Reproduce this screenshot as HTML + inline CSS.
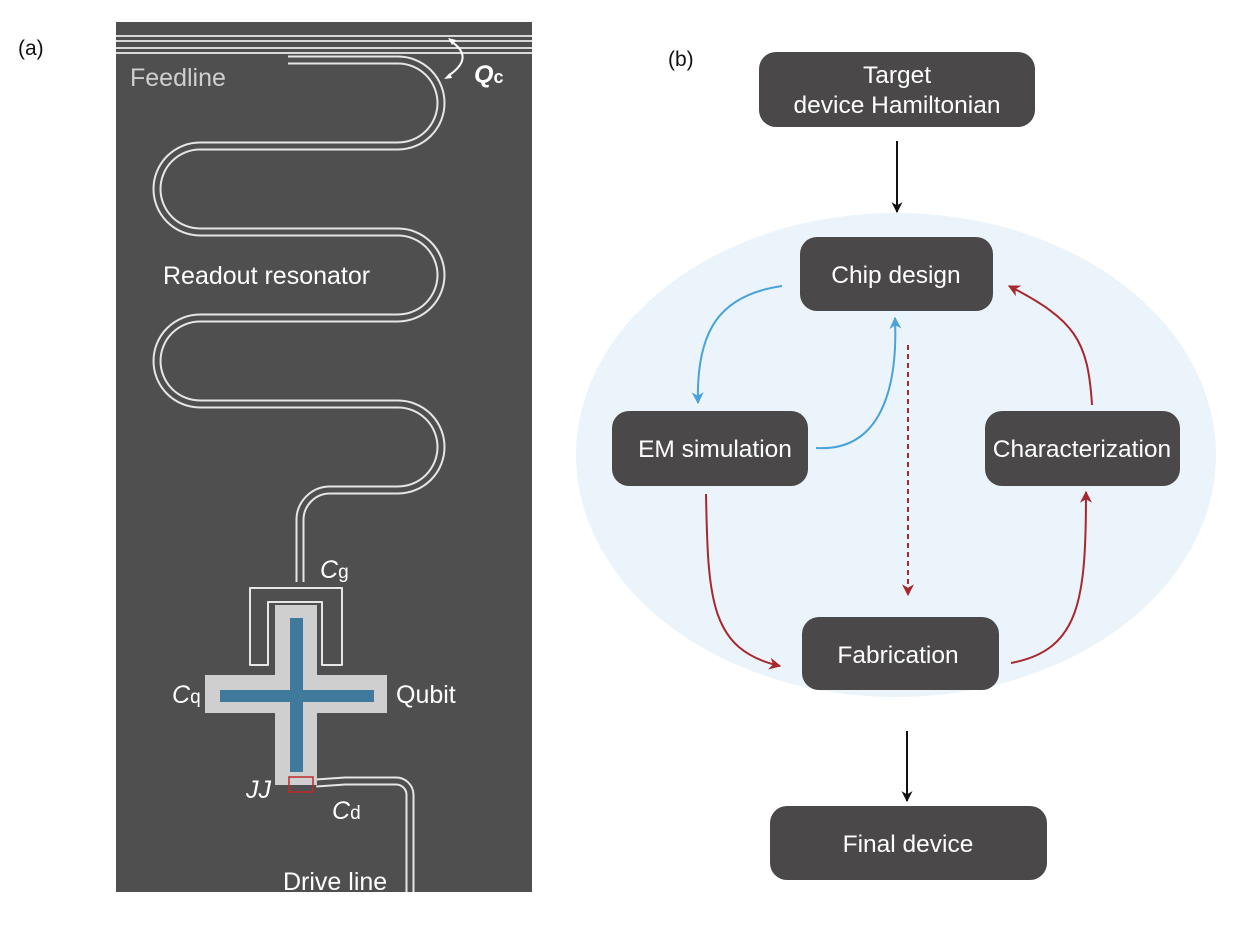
<!DOCTYPE html>
<html><head><meta charset="utf-8"><style>
body{margin:0;background:#fff;}
svg{display:block;font-family:"Liberation Sans",Arial,sans-serif;}
</style></head><body>
<svg width="1252" height="928" viewBox="0 0 1252 928" xmlns="http://www.w3.org/2000/svg">
<defs>
<marker id="ab" viewBox="0 0 10 10" refX="9" refY="5" markerWidth="12" markerHeight="12" orient="auto-start-reverse" markerUnits="userSpaceOnUse"><path d="M0,0 L10,5 L0,10 L3,5 z" fill="#4aa3d8"/></marker>
<marker id="ar" viewBox="0 0 10 10" refX="9" refY="5" markerWidth="12" markerHeight="12" orient="auto-start-reverse" markerUnits="userSpaceOnUse"><path d="M0,0 L10,5 L0,10 L3,5 z" fill="#a8282e"/></marker>
<marker id="ak" viewBox="0 0 10 10" refX="9" refY="5" markerWidth="11" markerHeight="11" orient="auto-start-reverse" markerUnits="userSpaceOnUse"><path d="M0,0 L10,5 L0,10 L3,5 z" fill="#111"/></marker>
</defs>
<text x="18" y="55" font-size="21" fill="#111">(a)</text>
<text x="668" y="66" font-size="21" fill="#111">(b)</text>

<rect x="116" y="22" width="416" height="870" fill="#4f4f4f"/>
<g stroke="#d8d8d8" stroke-width="2" fill="none">
<line x1="116" y1="36" x2="532" y2="36"/><line x1="116" y1="41" x2="532" y2="41"/>
<line x1="116" y1="48" x2="532" y2="48"/><line x1="116" y1="53" x2="532" y2="53"/>
</g>
<g fill="none" stroke-linejoin="round">
<path d="M288,60 H398 A43,43 0 0 1 398,146 H200 A43,43 0 0 0 200,232 H398 A43,43 0 0 1 398,318 H200 A43,43 0 0 0 200,404 H398 A43,43 0 0 1 398,490 H330 A30,30 0 0 0 300,520 V582" stroke="#e6e6e6" stroke-width="9"/>
<path d="M288,60 H398 A43,43 0 0 1 398,146 H200 A43,43 0 0 0 200,232 H398 A43,43 0 0 1 398,318 H200 A43,43 0 0 0 200,404 H398 A43,43 0 0 1 398,490 H330 A30,30 0 0 0 300,520 V582" stroke="#4f4f4f" stroke-width="5"/>
<path d="M316,783 L345,781 H395 A14,14 0 0 1 410,795 V892" stroke="#e6e6e6" stroke-width="9"/>
<path d="M316,783 L345,781 H395 A14,14 0 0 1 410,795 V892" stroke="#4f4f4f" stroke-width="5"/>
<path d="M250,665 V588 H342 V665 H322 V602 H268 V665 Z" stroke="#e6e6e6" stroke-width="2"/>
</g>
<path d="M275,605 H317 V675 H387 V713 H317 V785 H275 V713 H205 V675 H275 Z" fill="#cfcfcf"/>
<rect x="290" y="618" width="13" height="154" fill="#3f7a9c"/>
<rect x="220" y="690" width="154" height="12" fill="#3f7a9c"/>
<rect x="289" y="777" width="24" height="15" fill="none" stroke="#c02a2a" stroke-width="1.5"/>
<path d="M452,42 Q475,58 448,76" fill="none" stroke="#fff" stroke-width="2"/>
<path d="M448,38 l8,2 l-4,5z M444,79 l6,-6 l2,5z" fill="#fff"/>
<g font-size="25" fill="#fff">
<text x="130" y="86" fill="#cfcfcf">Feedline</text>
<text x="474" y="83" font-style="italic" font-weight="bold">Q<tspan font-size="18" font-style="normal">c</tspan></text>
<text x="163" y="284">Readout resonator</text>
<text x="320" y="578" font-style="italic">C<tspan font-size="19" font-style="normal">g</tspan></text>
<text x="172" y="703" font-style="italic">C<tspan font-size="19" font-style="normal">q</tspan></text>
<text x="396" y="703">Qubit</text>
<text x="246" y="798" font-style="italic">JJ</text>
<text x="332" y="819" font-style="italic">C<tspan font-size="19" font-style="normal">d</tspan></text>
<text x="283" y="890">Drive line</text>
</g>

<ellipse cx="896" cy="455" rx="320" ry="242" fill="#ebf4fa"/>
<g fill="#4a4849">
<rect x="759" y="52" width="276" height="75" rx="17"/>
<rect x="800" y="237" width="193" height="74" rx="17"/>
<rect x="612" y="411" width="196" height="75" rx="17"/>
<rect x="985" y="411" width="195" height="75" rx="17"/>
<rect x="802" y="617" width="197" height="73" rx="17"/>
<rect x="770" y="806" width="277" height="74" rx="17"/>
</g>
<g font-size="24.5" fill="#fff" text-anchor="middle">
<text x="897" y="83">Target</text>
<text x="897" y="113">device Hamiltonian</text>
<text x="896" y="283">Chip design</text>
<text x="715" y="457">EM simulation</text>
<text x="1082" y="457">Characterization</text>
<text x="898" y="663">Fabrication</text>
<text x="908" y="852">Final device</text>
</g>
<g fill="none" stroke-width="2">
<line x1="897" y1="141" x2="897" y2="212" stroke="#111" marker-end="url(#ak)"/>
<line x1="907" y1="731" x2="907" y2="801" stroke="#111" marker-end="url(#ak)"/>
<path d="M782,286 C720,295 696,330 698,403" stroke="#4aa3d8" marker-end="url(#ab)"/>
<path d="M816,448 C880,452 898,390 895,318" stroke="#4aa3d8" marker-end="url(#ab)"/>
<line x1="908" y1="345" x2="908" y2="595" stroke="#a8282e" stroke-dasharray="5,4" marker-end="url(#ar)"/>
<path d="M706,494 C708,600 710,650 780,666" stroke="#a8282e" marker-end="url(#ar)"/>
<path d="M1011,663 C1080,650 1086,600 1086,492" stroke="#a8282e" marker-end="url(#ar)"/>
<path d="M1092,405 C1088,340 1075,320 1009,286" stroke="#a8282e" marker-end="url(#ar)"/>
</g>
</svg>
</body></html>
